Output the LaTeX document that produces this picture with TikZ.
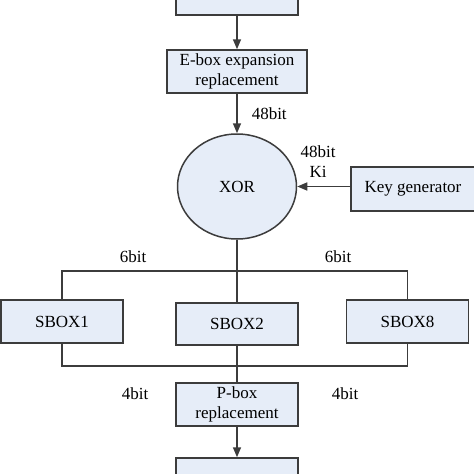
\documentclass[tikz,border=0pt]{standalone}
\usepackage{fontspec}
\setmainfont{Liberation Serif}
\usepackage{xcolor}
\usetikzlibrary{positioning, arrows.meta, shapes.geometric}

\definecolor{boxfill}{HTML}{E6EDF8}
\definecolor{boxline}{HTML}{3C3C3C}

\tikzset{
  box/.style={draw=boxline, fill=boxfill, line width=1.5pt, minimum width=122pt,
    minimum height=43pt, inner sep=0pt, align=center,
    font=\fontsize{17}{20}\selectfont},
  lbl/.style={font=\fontsize{17}{20}\selectfont, inner sep=0pt},
}

\begin{document}
\begin{tikzpicture}[x=1pt,y=-1pt,>={Triangle[length=10pt,width=8pt]},line width=1.5pt,draw=boxline]
    \useasboundingbox (0,0) rectangle (474,474);

    \node[box] (input) at (237,-6.5) {};
    \node[box,minimum width=140pt] (ebox) at (237,71.5) {E-box expansion\\replacement};
    \node[box,ellipse,minimum width=119pt,minimum height=105pt] (xor) at (237,186.5) {XOR};
    \node[box,minimum width=124pt,minimum height=44pt] (keygen) at (413,189) {Key generator};

    \node[box] (sbox1) at (62,321.5) {SBOX1};
    \node[box,minimum height=42pt] (sbox2) at (237,324) {SBOX2};
    \node[box] (sbox8) at (407.5,321.5) {SBOX8};
    \node[box] (pbox) at (237,404.5) {P-box\\replacement};
    \node[box] (output) at (237,479.5) {};

    \coordinate (split) at (237,271);
    \coordinate (merge) at (237,366);

    % data path
    \draw[->] (input) -- (ebox);
    \draw[->] (ebox) -- node[lbl,right=14pt] {48bit} (xor);
    \draw[->] (keygen.west |- xor.east) -- (xor.east);
    \draw (xor) -- (sbox2);
    \draw (sbox1.north) |- (split) -| (sbox8.north);
    \draw (sbox1.south) |- (merge) -| (sbox8.south);
    \draw (sbox2) -- (pbox);
    \draw[->] (pbox) -- (output);

    % bit widths
    \node[lbl] (kbits) at (318,152) {48bit};
    \node[lbl] (ki) at (318,172) {Ki};
    \node[lbl] (sixl) at (133,257) {6bit};
    \node[lbl] (sixr) at (338,257) {6bit};
    \node[lbl] (fourl) at (135,394) {4bit};
    \node[lbl] (fourr) at (345,394) {4bit};
\end{tikzpicture}
\end{document}
